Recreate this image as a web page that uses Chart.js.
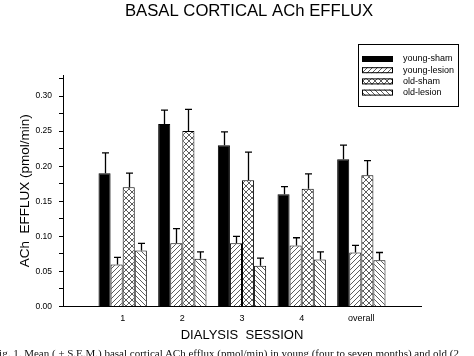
<!DOCTYPE html>
<html>
<head>
<meta charset="utf-8">
<script src="https://cdn.jsdelivr.net/npm/chart.js@4/dist/chart.umd.min.js"></script>
<style>
  html, body { margin: 0; padding: 0; background: #fff; overflow: hidden; }
  #wrap { position: relative; width: 474px; height: 356px; overflow: hidden; }
  #c { position: absolute; left: 0; top: 0; }
  #caption { position: absolute; left: -7px; top: 347px; font: 11px "Liberation Serif", serif; white-space: nowrap; color: #111; }
</style>
</head>
<body>
<div id="wrap">
<canvas id="c" width="474" height="356"></canvas>
<div id="caption">Fig. 1. Mean ( ± S.E.M.) basal cortical ACh efflux (pmol/min) in young (four to seven months) and old (2</div>
</div>
<script>
// ---- data ----
const chartTitle = 'BASAL CORTICAL ACh EFFLUX';
const categories = ['1', '2', '3', '4', 'overall'];
const seriesNames = ['young-sham', 'young-lesion', 'old-sham', 'old-lesion'];
const youngSham    = [0.19, 0.26, 0.23, 0.16, 0.21];
const youngShamErr = [0.029, 0.02, 0.019, 0.011, 0.02];
const youngLesion    = [0.06, 0.09, 0.09, 0.087, 0.077];
const youngLesionErr = [0.01, 0.021, 0.01, 0.011, 0.01];
const oldSham    = [0.17, 0.25, 0.18, 0.168, 0.187];
const oldShamErr = [0.02, 0.031, 0.04, 0.021, 0.021];
const oldLesion    = [0.08, 0.068, 0.058, 0.067, 0.066];
const oldLesionErr = [0.01, 0.01, 0.011, 0.011, 0.011];
const yTickValues = [0, 0.025, 0.05, 0.075, 0.1, 0.125, 0.15, 0.175, 0.2, 0.225, 0.25, 0.275, 0.3, 0.325];

const FONT = '"Liberation Sans", Arial, Helvetica, sans-serif';

function makePattern(type) {
  const s = type === 'cross' ? 6 : 5;
  const c = document.createElement('canvas');
  c.width = s; c.height = s;
  const g = c.getContext('2d');
  g.fillStyle = '#fff'; g.fillRect(0, 0, s, s);
  g.strokeStyle = '#333'; g.lineWidth = 0.8;
  const fwd = () => { g.beginPath(); g.moveTo(-1, s + 1); g.lineTo(s + 1, -1); g.moveTo(-1, 1); g.lineTo(1, -1); g.moveTo(s - 1, s + 1); g.lineTo(s + 1, s - 1); g.stroke(); };
  const back = () => { g.beginPath(); g.moveTo(-1, -1); g.lineTo(s + 1, s + 1); g.moveTo(-1, s - 1); g.lineTo(1, s + 1); g.moveTo(s - 1, -1); g.lineTo(s + 1, 1); g.stroke(); };
  if (type === 'fwd') fwd();
  if (type === 'back') back();
  if (type === 'cross') { fwd(); back(); }
  return g.createPattern(c, 'repeat');
}
const ctx0 = document.getElementById('c').getContext('2d');
const fills = ['#000', makePattern('fwd'), makePattern('cross'), makePattern('back')];

const pad = arr => [null, ...arr, null];
const labels = ['', ...categories, ''];
const values = [youngSham, youngLesion, oldSham, oldLesion];
const errors = [youngShamErr, youngLesionErr, oldShamErr, oldLesionErr];

const datasets = values.map((v, i) => ({
  label: seriesNames[i],
  data: pad(v),
  backgroundColor: fills[i],
  borderColor: '#000',
  borderWidth: 1,
  borderSkipped: 'bottom',
  categoryPercentage: 0.81,
  barPercentage: 1.0
}));

const errorBars = {
  id: 'errorBars',
  afterDatasetsDraw(chart) {
    const c = chart.ctx, y = chart.scales.y;
    c.save();
    c.strokeStyle = '#000'; c.lineWidth = 1.3;
    chart.data.datasets.forEach((ds, i) => {
      const meta = chart.getDatasetMeta(i);
      const errs = pad(errors[i]);
      ds.data.forEach((v, j) => {
        if (v == null) return;
        const bar = meta.data[j];
        const top = y.getPixelForValue(v + errs[j]);
        const x = Math.round(bar.x) + 0.5;
        c.beginPath();
        c.moveTo(x, bar.y); c.lineTo(x, top);
        c.moveTo(x - 3.5, top); c.lineTo(x + 3.5, top);
        c.stroke();
      });
    });
    c.restore();
  }
};

const titleAndLegend = {
  id: 'titleAndLegend',
  afterDraw(chart) {
    const c = chart.ctx;
    c.save();
    // title
    c.fillStyle = '#000';
    c.font = '16.7px ' + FONT;
    c.textAlign = 'center';
    c.textBaseline = 'alphabetic';
    c.fillText(chartTitle, 249, 15.5);
    // legend
    c.textAlign = 'left';
    c.strokeStyle = '#000'; c.lineWidth = 1;
    c.strokeRect(358.5, 44.5, 100, 62);
    c.font = '9px ' + FONT;
    c.textBaseline = 'middle';
    seriesNames.forEach((name, i) => {
      const yc = 59 + i * 11.2;
      c.fillStyle = fills[i];
      c.fillRect(362, yc - 3, 31, 6);
      if (i > 0) { c.strokeStyle = '#000'; c.strokeRect(362.5, yc - 2.5, 30, 5); }
      c.fillStyle = '#000';
      c.fillText(name, 403, yc);
    });
    c.restore();
  }
};

new Chart(ctx0, {
  type: 'bar',
  data: { labels, datasets },
  options: {
    responsive: false,
    animation: false,
    layout: { padding: { top: 75, right: 53, left: 0, bottom: 12 } },
    plugins: {
      legend: { display: false },
      tooltip: { enabled: false },
      title: { display: false }
    },
    scales: {
      x: {
        type: 'category',
        offset: false,
        grid: { display: true, drawOnChartArea: false, drawTicks: false },
        border: { display: true, color: '#000', width: 1 },
        ticks: { color: '#000', font: { family: FONT, size: 9 }, padding: 7, autoSkip: false, maxRotation: 0 },
        title: { display: true, text: 'DIALYSIS  SESSION', color: '#000', font: { family: FONT, size: 13 }, padding: { top: 0, bottom: 1.2 } },
        afterFit(s) { s.height = 37.5; }
      },
      y: {
        min: 0, max: 0.33,
        afterBuildTicks(s) { s.ticks = yTickValues.map(v => ({ value: v })); },
        grid: { display: true, drawOnChartArea: false, drawTicks: true, tickLength: 4, color: '#000' },
        border: { display: true, color: '#000', width: 1 },
        ticks: {
          color: '#000', font: { family: FONT, size: 8.5 }, padding: 7,
          callback(v) { const k = Math.round(v * 1000); return (k % 50 === 0) ? (k / 1000).toFixed(2) : ''; }
        },
        title: { display: true, text: 'ACh  EFFLUX (pmol/min)', color: '#000', font: { family: FONT, size: 13.5 }, padding: { top: 17, bottom: 0 } },
        afterFit(s) { s.width = 63; }
      }
    }
  },
  plugins: [errorBars, titleAndLegend]
});
</script>
</body>
</html>
